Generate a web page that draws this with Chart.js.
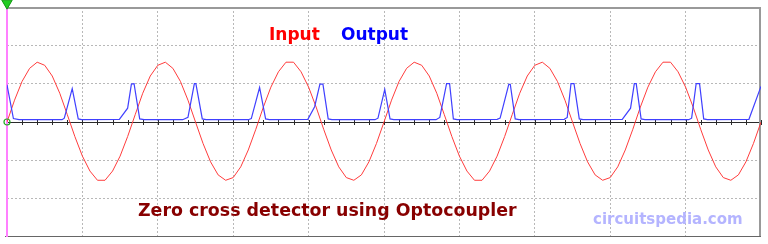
<!DOCTYPE html>
<html>
<head>
<meta charset="utf-8">
<title>Zero cross detector using Optocoupler</title>
<script src="https://cdn.jsdelivr.net/npm/chart.js@4/dist/chart.umd.min.js"></script>
<style>
    html, body { margin: 0; padding: 0; background: #ffffff; }
    #scope-chart { display: block; }
</style>
</head>
<body>
<canvas id="scope-chart" width="768" height="244"></canvas>
<script>
// Input (mains sine, 60 Hz) samples, time in ms / volts per division
const inputTimeMs = [
    0, 1, 2, 3, 4, 5, 6, 7, 8, 9,
    10, 11, 12, 13, 14, 15, 16, 17, 18, 19,
    20, 21, 22, 23, 24, 25, 26, 27, 28, 29,
    30, 31, 32, 33, 34, 35, 36, 37, 38, 39,
    40, 41, 42, 43, 44, 45, 46, 47, 48, 49,
    50, 51, 52, 53, 54, 55, 56, 57, 58, 59,
    60, 61, 62, 63, 64, 65, 66, 67, 68, 69,
    70, 71, 72, 73, 74, 75, 76, 77, 78, 79,
    80, 81, 82, 83, 84, 85, 86, 87, 88, 89,
    90, 91, 92, 93, 94, 95, 96, 97, 98, 99,
    100
];
const inputVolts = [
    0, 0.57, 1.06, 1.40, 1.56, 1.48, 1.20, 0.75, 0.19, -0.38,
    -0.89, -1.28, -1.52, -1.52, -1.28, -0.89, -0.38, 0.19, 0.75, 1.20,
    1.48, 1.56, 1.40, 1.06, 0.57, 0, -0.56, -1.04, -1.38, -1.52,
    -1.45, -1.17, -0.73, -0.19, 0.39, 0.91, 1.31, 1.56, 1.56, 1.31,
    0.91, 0.39, -0.19, -0.73, -1.17, -1.45, -1.52, -1.38, -1.04, -0.56,
    0, 0.57, 1.06, 1.40, 1.56, 1.48, 1.20, 0.75, 0.19, -0.38,
    -0.89, -1.28, -1.52, -1.52, -1.28, -0.89, -0.38, 0.19, 0.75, 1.20,
    1.48, 1.56, 1.40, 1.06, 0.57, 0, -0.56, -1.04, -1.38, -1.52,
    -1.45, -1.17, -0.73, -0.19, 0.39, 0.91, 1.31, 1.56, 1.56, 1.31,
    0.91, 0.39, -0.19, -0.73, -1.17, -1.45, -1.52, -1.38, -1.04, -0.56,
    0
];

// Output (optocoupler pulses at each zero crossing)
const outputTimeMs = [
    0, 0.85, 1.6,
    7.3, 7.6, 8.65, 9.45, 9.9,
    14.9, 16.0, 16.5, 16.85, 17.6, 18.2,
    23.3, 24.0, 24.85, 25.05, 25.9, 26.4,
    32.0, 32.4, 33.5, 34.3, 34.8,
    39.9, 40.8, 41.5, 41.9, 42.6, 43.1,
    48.8, 49.2, 50.1, 50.8, 51.3,
    56.9, 57.4, 58.3, 58.7, 59.2, 59.7,
    65.0, 65.4, 66.55, 66.75, 67.4, 67.9,
    73.9, 74.3, 74.8, 75.2, 75.9, 76.4,
    81.6, 82.7, 83.2, 83.45, 84.1, 84.6,
    90.4, 90.8, 91.4, 91.85, 92.4, 92.9,
    98.4, 100
];
const outputVolts = [
    0.97, 0.09, 0.06,
    0.06, 0.10, 0.87, 0.08, 0.06,
    0.07, 0.36, 0.99, 1.00, 0.08, 0.06,
    0.06, 0.12, 1.00, 1.00, 0.08, 0.06,
    0.06, 0.09, 0.90, 0.08, 0.06,
    0.07, 0.40, 0.99, 0.99, 0.08, 0.06,
    0.06, 0.10, 0.85, 0.08, 0.06,
    0.06, 0.12, 1.00, 1.00, 0.08, 0.06,
    0.07, 0.10, 0.98, 0.98, 0.08, 0.06,
    0.07, 0.12, 1.00, 1.00, 0.08, 0.06,
    0.07, 0.36, 1.00, 1.00, 0.08, 0.06,
    0.06, 0.10, 1.00, 1.00, 0.08, 0.06,
    0.07, 0.93
];

// Cursor markers of the scope (trigger level / ground reference)
const cursorTimeMs = [0, 0];
const cursorVolts = [3.1, 0];

// Axis ranges
const timeRange = [0, 100];
const voltRange = [-3, 3];
const timeMajorStep = 10;
const timeMinorStep = 2;
const voltStep = 1;

const legendLabels = ['Input', 'Output'];
const chartTitle = 'Zero cross detector using Optocoupler';
const watermark = 'circuitspedia.com';

function toPoints(xs, ys) {
    return xs.map((x, i) => ({ x: x, y: ys[i] }));
}

// Hide grid at edges and at the zero axis (drawn by the plugin)
function innerGridColor(value, min, max) {
    if (value === min || value === max || value === 0) return 'rgba(0,0,0,0)';
    return '#b8b8b8';
}

// Scope frame, zero axis with minor ticks and texts
const scopeDecor = {
    id: 'scopeDecor',
    beforeDatasetsDraw(chart) {
        const { ctx, chartArea, scales } = chart;
        const { left, right, top, bottom } = chartArea;
        const y0 = Math.round(scales.y.getPixelForValue(0)) + 0.5;

        ctx.save();
        // zero axis
        ctx.strokeStyle = '#2a2a2a';
        ctx.lineWidth = 1;
        ctx.beginPath();
        ctx.moveTo(left, y0);
        ctx.lineTo(right, y0);
        for (let t = timeRange[0]; t <= timeRange[1]; t += timeMinorStep) {
            const px = Math.round(scales.x.getPixelForValue(t)) + 0.5;
            ctx.moveTo(px, y0 - 2.5);
            ctx.lineTo(px, y0 + 2.5);
        }
        ctx.stroke();

        // top and right border
        ctx.strokeStyle = '#999999';
        ctx.lineWidth = 2;
        ctx.beginPath();
        ctx.moveTo(left, top + 1);
        ctx.lineTo(right - 1, top + 1);
        ctx.lineTo(right - 1, bottom);
        ctx.stroke();

        // bottom border
        ctx.strokeStyle = '#666666';
        ctx.lineWidth = 1;
        ctx.beginPath();
        ctx.moveTo(left - 2, bottom - 0.5);
        ctx.lineTo(right, bottom - 0.5);
        ctx.stroke();

        // left (pink) channel line
        ctx.strokeStyle = '#ff80ff';
        ctx.lineWidth = 2;
        ctx.beginPath();
        ctx.moveTo(left, top);
        ctx.lineTo(left, bottom);
        ctx.stroke();
        ctx.restore();
    },
    afterDraw(chart) {
        const { ctx } = chart;
        ctx.save();
        ctx.textBaseline = 'alphabetic';
        ctx.textAlign = 'left';

        ctx.font = "bold 17px 'DejaVu Sans', sans-serif";
        ctx.fillStyle = '#ff0000';
        ctx.fillText(legendLabels[0], 269, 40);
        ctx.fillStyle = '#0000ff';
        ctx.fillText(legendLabels[1], 341, 40);

        ctx.font = "bold 17.4px 'DejaVu Sans', sans-serif";
        ctx.fillStyle = '#880000';
        ctx.fillText(chartTitle, 138, 216);

        ctx.font = "bold 15px 'DejaVu Sans', sans-serif";
        ctx.fillStyle = '#b4b4ff';
        ctx.fillText(watermark, 593, 224);
        ctx.restore();
    }
};

const scopeChart = new Chart(document.getElementById('scope-chart'), {
    type: 'scatter',
    data: {
        datasets: [
            {
                label: legendLabels[1],
                data: toPoints(outputTimeMs, outputVolts),
                showLine: true,
                borderColor: '#4040ff',
                borderWidth: 1.2,
                pointRadius: 0,
                tension: 0,
                order: 1
            },
            {
                label: legendLabels[0],
                data: toPoints(inputTimeMs, inputVolts),
                showLine: true,
                borderColor: '#ff3c3c',
                borderWidth: 1,
                pointRadius: 0,
                tension: 0,
                order: 2
            },
            {
                label: 'cursor',
                data: toPoints(cursorTimeMs, cursorVolts),
                showLine: false,
                pointStyle: ['triangle', 'circle'],
                rotation: [180, 0],
                pointRadius: [6, 3],
                backgroundColor: ['#22cc22', 'rgba(0,0,0,0)'],
                borderColor: ['#119911', '#22aa22'],
                borderWidth: [1, 1.2],
                clip: false,
                order: 0
            }
        ]
    },
    options: {
        responsive: false,
        devicePixelRatio: 1,
        animation: false,
        layout: {
            padding: { left: 7, right: 6, top: 6, bottom: 6 }
        },
        plugins: {
            legend: { display: false },
            tooltip: { enabled: false },
            title: { display: false }
        },
        scales: {
            x: {
                type: 'linear',
                min: timeRange[0],
                max: timeRange[1],
                ticks: { display: false, stepSize: timeMajorStep },
                grid: {
                    drawTicks: false,
                    lineWidth: 1,
                    color: (c) => innerGridColor(c.tick.value, timeRange[0], timeRange[1])
                },
                border: { display: false, dash: [2, 2] }
            },
            y: {
                type: 'linear',
                min: voltRange[0],
                max: voltRange[1],
                ticks: { display: false, stepSize: voltStep },
                grid: {
                    drawTicks: false,
                    lineWidth: 1,
                    color: (c) => innerGridColor(c.tick.value, voltRange[0], voltRange[1])
                },
                border: { display: false, dash: [2, 2] }
            }
        }
    },
    plugins: [scopeDecor]
});
</script>
</body>
</html>
